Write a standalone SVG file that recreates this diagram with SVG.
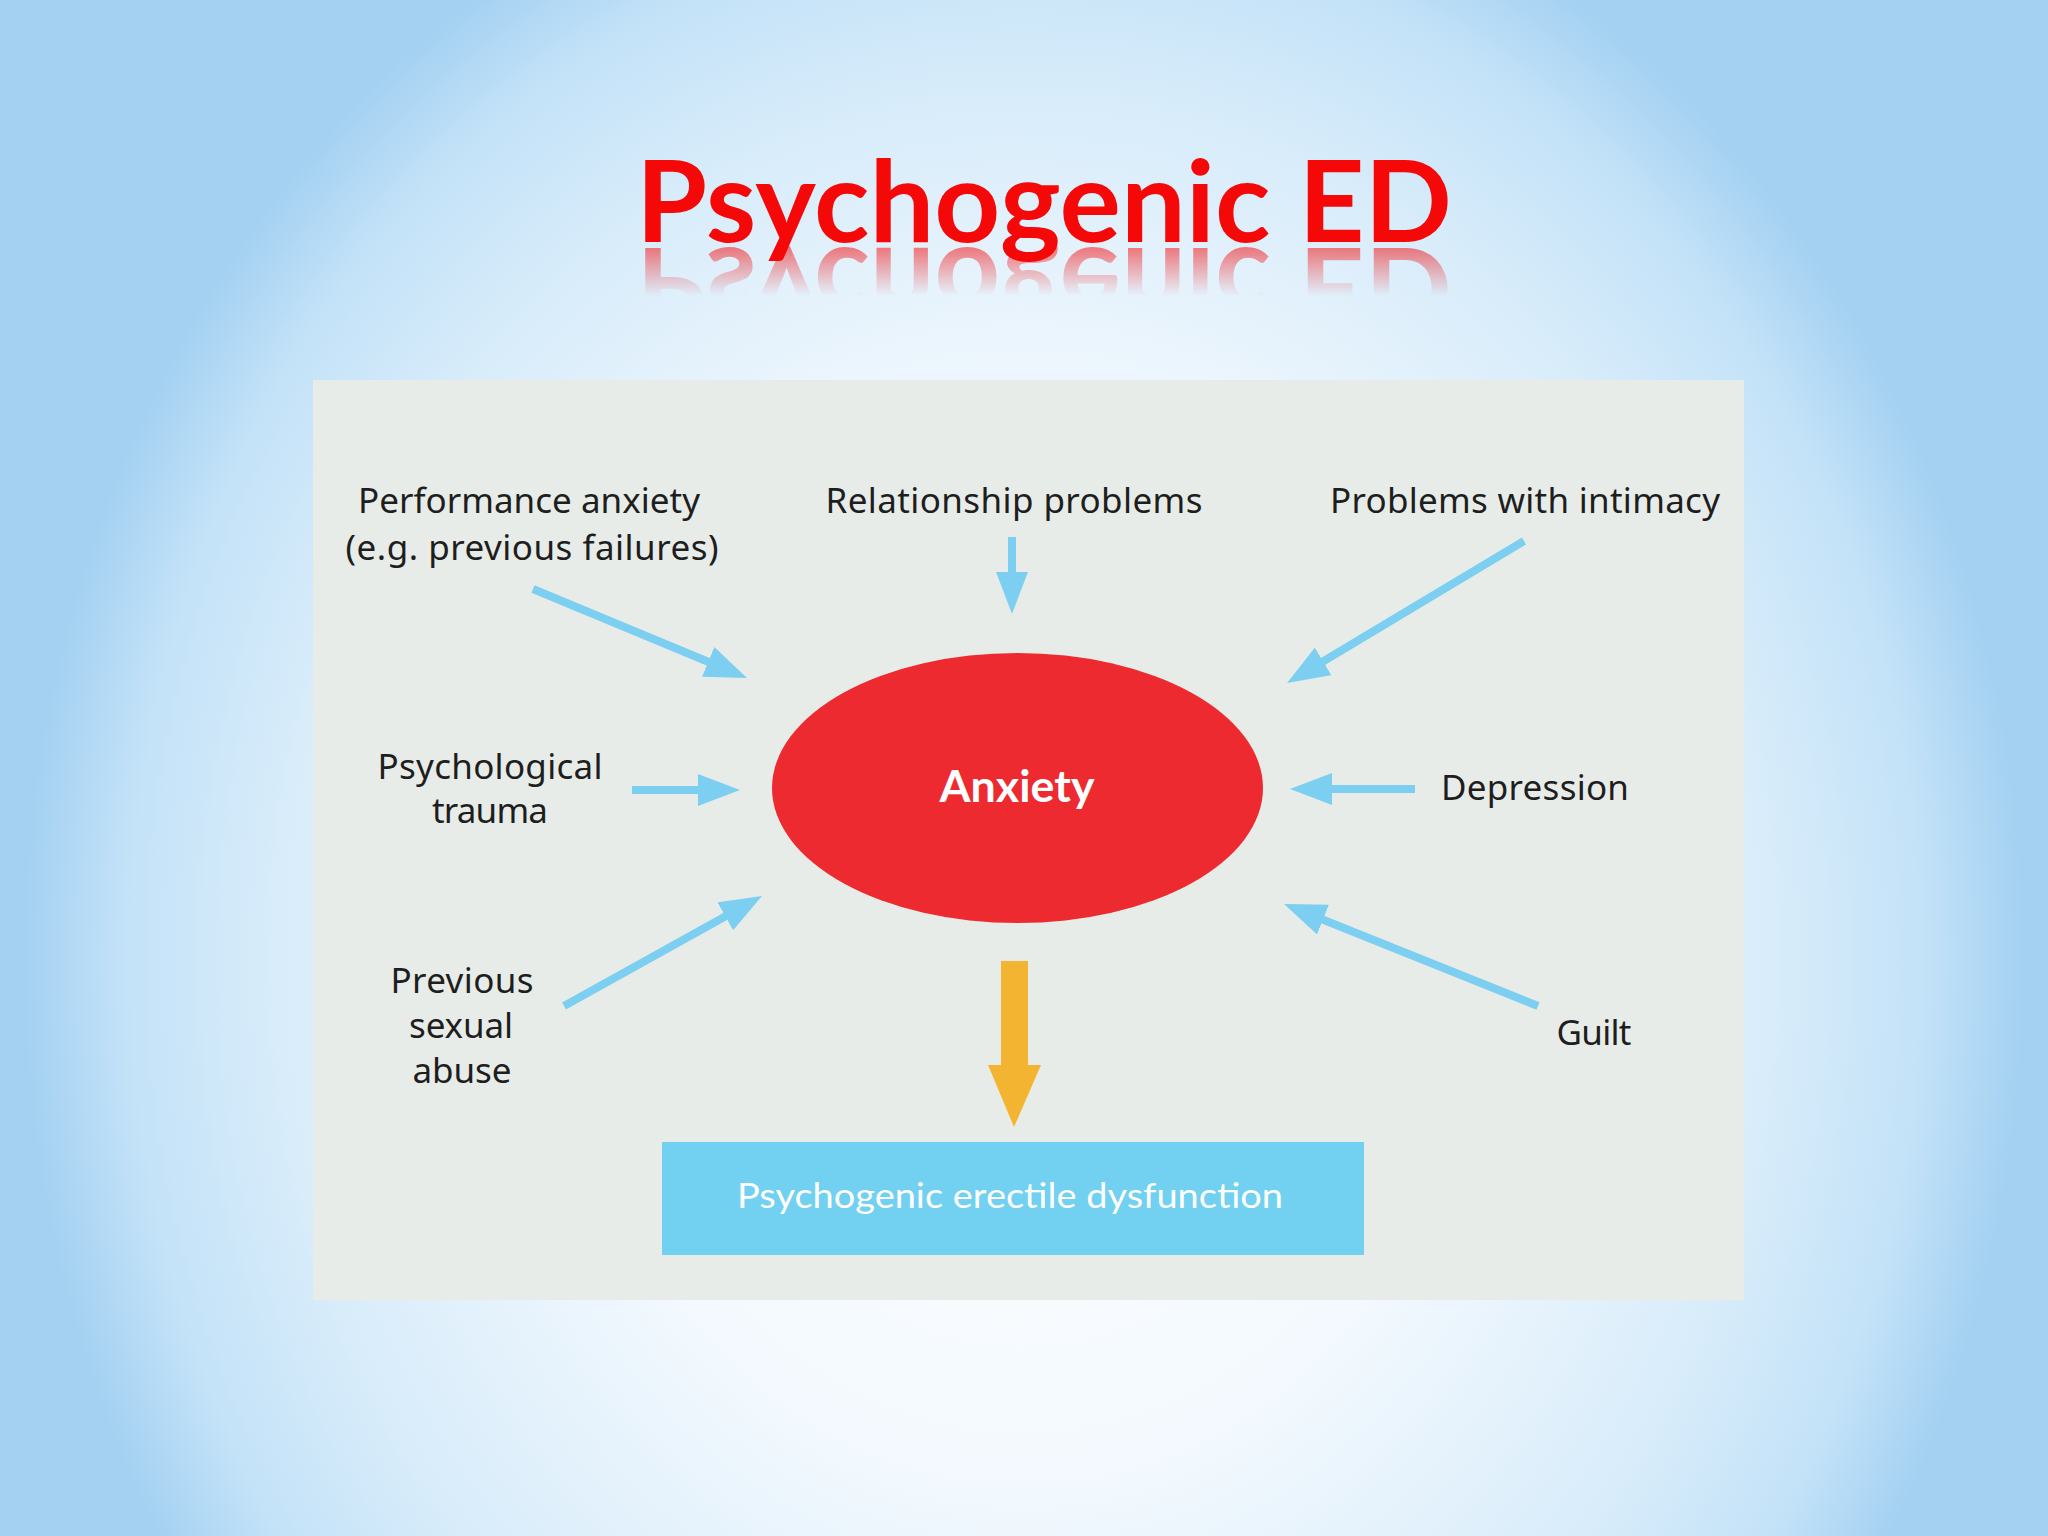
<svg xmlns="http://www.w3.org/2000/svg" xmlns:xlink="http://www.w3.org/1999/xlink" width="2048" height="1536" viewBox="0 0 2048 1536">
<style>
.lbl{font-family:"Noto Sans","Liberation Sans",sans-serif;font-size:35px;fill:#1e1e1e;text-anchor:middle}
.conn{stroke:#7ccff0;stroke-width:8;fill:none;stroke-linecap:butt}
</style>
<defs>
<radialGradient id="bg" gradientUnits="userSpaceOnUse" cx="1024" cy="960" r="1000" gradientTransform="translate(1024 960) scale(1 1.15) translate(-1024 -960)">
<stop offset="0" stop-color="#ffffff"/>
<stop offset="0.45" stop-color="#f3f9fe"/>
<stop offset="0.75" stop-color="#d8ecfa"/>
<stop offset="0.9" stop-color="#c3e2f8"/>
<stop offset="1" stop-color="#a4d1f2"/>
</radialGradient>
<linearGradient id="fade" gradientUnits="userSpaceOnUse" x1="0" y1="246" x2="0" y2="296">
<stop offset="0" stop-color="#fff" stop-opacity="0.6"/>
<stop offset="1" stop-color="#fff" stop-opacity="0"/>
</linearGradient>
<mask id="reflMask"><rect x="600" y="246" width="900" height="60" fill="url(#fade)"/></mask>
<marker id="head" markerUnits="userSpaceOnUse" markerWidth="42" markerHeight="32" refX="22" refY="16" orient="auto" viewBox="0 0 42 32">
<path d="M0,0 L42,16 L0,32 z" fill="#7ccff0"/>
</marker>
</defs>
<rect width="2048" height="1536" fill="url(#bg)"/>
<g id="title">
<text id="titleText" x="1044" y="242" text-anchor="middle" textLength="816" lengthAdjust="spacingAndGlyphs" font-family="Lato,'Open Sans','Liberation Sans',sans-serif" font-weight="700" font-size="113" fill="#f50808">Psychogenic ED</text>
<g mask="url(#reflMask)" opacity="0.9"><use xlink:href="#titleText" href="#titleText" transform="matrix(1 0 0 -1 0 490)"/></g>
</g>
<rect id="panel" x="313" y="380" width="1431" height="920" fill="#e8ece8"/>
<g id="connectors">
<line class="conn" x1="533" y1="589" x2="728.5" y2="670.3" marker-end="url(#head)"/>
<line class="conn" x1="1012" y1="537" x2="1012" y2="594" marker-end="url(#head)"/>
<line class="conn" x1="1524" y1="541" x2="1304.2" y2="672.7" marker-end="url(#head)"/>
<line class="conn" x1="632" y1="790" x2="720" y2="790" marker-end="url(#head)"/>
<line class="conn" x1="1415" y1="789" x2="1310" y2="789" marker-end="url(#head)"/>
<line class="conn" x1="564" y1="1006" x2="744.5" y2="905.7" marker-end="url(#head)"/>
<line class="conn" x1="1538" y1="1006" x2="1302.6" y2="911.5" marker-end="url(#head)"/>
<path id="yellowArrow" d="M1001,961 L1028,961 L1028,1065 L1041,1065 L1014,1127 L988,1065 L1001,1065 z" fill="#f3b531"/>
</g>
<g id="anxiety">
<ellipse cx="1017.5" cy="788" rx="245.5" ry="135" fill="#ec2a30"/>
<text x="1017" y="802" text-anchor="middle" textLength="155" lengthAdjust="spacingAndGlyphs" font-family="Lato,'Open Sans','Liberation Sans',sans-serif" font-weight="700" font-size="43" fill="#ffffff">Anxiety</text>
</g>
<g id="performance">
<text class="lbl" x="529" y="513" textLength="342">Performance anxiety</text>
<text class="lbl" x="532" y="560" textLength="373">(e.g. previous failures)</text>
</g>
<g id="relationship"><text class="lbl" x="1014" y="513" textLength="377">Relationship problems</text></g>
<g id="intimacy"><text class="lbl" x="1525" y="513" textLength="390">Problems with intimacy</text></g>
<g id="trauma">
<text class="lbl" x="490" y="779" textLength="225">Psychological</text>
<text class="lbl" x="490" y="823" textLength="116">trauma</text>
</g>
<g id="depression"><text class="lbl" x="1535" y="800" textLength="188">Depression</text></g>
<g id="abuse">
<text class="lbl" x="462" y="993" textLength="143">Previous</text>
<text class="lbl" x="461" y="1038" textLength="104">sexual</text>
<text class="lbl" x="462" y="1083" textLength="99">abuse</text>
</g>
<g id="guilt"><text class="lbl" x="1594" y="1045" textLength="75">Guilt</text></g>
<g id="outcome">
<rect x="662" y="1142" width="702" height="113" fill="#72d0f1"/>
<text x="1010" y="1208" text-anchor="middle" textLength="546" lengthAdjust="spacingAndGlyphs" font-family="Lato,'Open Sans','Liberation Sans',sans-serif" font-size="34" fill="#ffffff">Psychogenic erectile dysfunction</text>
</g>
</svg>
